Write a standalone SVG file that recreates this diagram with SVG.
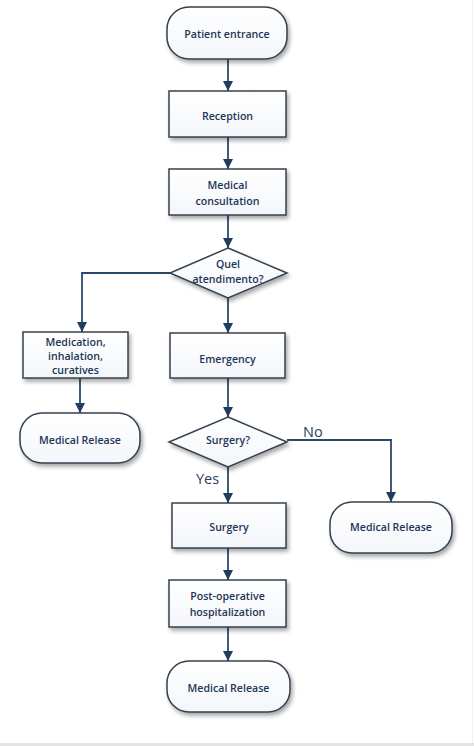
<svg xmlns="http://www.w3.org/2000/svg" width="474" height="746" viewBox="0 0 474 746">
<defs>
<filter id="sh" x="-20%" y="-20%" width="150%" height="160%">
<feGaussianBlur in="SourceAlpha" stdDeviation="2.2"/>
<feOffset dx="2" dy="3" result="b"/>
<feComponentTransfer><feFuncA type="linear" slope="0.35"/></feComponentTransfer>
<feMerge><feMergeNode/><feMergeNode in="SourceGraphic"/></feMerge>
</filter>
<linearGradient id="g" x1="0" y1="0" x2="0" y2="1">
<stop offset="0" stop-color="#ffffff"/><stop offset="1" stop-color="#f3f6fa"/>
</linearGradient>
<marker id="ah" viewBox="0 0 10 10" refX="10" refY="5" markerWidth="10" markerHeight="10" markerUnits="userSpaceOnUse" orient="auto">
<path d="M0,0 L10,5 L0,10 z" fill="#1f3d5e"/>
</marker>
<style>
.s{fill:url(#g);stroke:#34404e;stroke-width:1.5;filter:url(#sh)}
.t{font-family:"Open Sans","Liberation Sans",sans-serif;font-size:10.6px;font-weight:600;fill:#1d3556;text-anchor:middle;dominant-baseline:central}
.c{fill:none;stroke:#2a4a6c;stroke-width:1.8;marker-end:url(#ah)}
.l{font-family:"Open Sans","Liberation Sans",sans-serif;font-size:14.5px;fill:#2a3f5a}
</style>
</defs>
<rect x="0" y="0" width="474" height="746" fill="#ffffff"/>
<rect x="0" y="743" width="474" height="3" fill="#e4e4e4"/>
<line x1="472.5" y1="0" x2="472.5" y2="743" stroke="#f0f0f0" stroke-width="1"/>
<g id="connectors">
<path class="c" d="M228,59 V91"/>
<path class="c" d="M228,137 V169"/>
<path class="c" d="M228,215 V248"/>
<path class="c" d="M228,298 V333"/>
<path class="c" d="M170,273 H82 V332"/>
<path class="c" d="M80,378 V413"/>
<path class="c" d="M228,378 V417"/>
<path class="c" d="M228,467 V503"/>
<path class="c" d="M287,440 H391 V502"/>
<path class="c" d="M228,548 V580"/>
<path class="c" d="M228,627 V661"/>
<text class="l" x="303" y="437">No</text>
<text class="l" x="196" y="484">Yes</text>
</g>
<g id="patient-entrance"><rect class="s" x="167" y="7" width="120" height="52" rx="22"/><text class="t" x="227" y="34">Patient entrance</text></g>
<g id="reception"><rect class="s" x="169" y="91" width="117" height="46"/><text class="t" x="227.5" y="116">Reception</text></g>
<g id="medical-consultation"><rect class="s" x="169" y="169" width="117" height="46"/><text class="t" x="227.5" y="185">Medical</text><text class="t" x="227.5" y="201">consultation</text></g>
<g id="quel-atendimento"><polygon class="s" points="228,248 287,273 228,298 170,273"/><text class="t" x="228" y="264">Quel</text><text class="t" x="228" y="279">atendimento?</text></g>
<g id="medication"><rect class="s" x="23" y="332" width="105" height="46"/><text class="t" x="75.5" y="342">Medication,</text><text class="t" x="75.5" y="356">inhalation,</text><text class="t" x="75.5" y="370">curatives</text></g>
<g id="emergency"><rect class="s" x="170" y="333" width="115" height="45"/><text class="t" x="227.5" y="359">Emergency</text></g>
<g id="medical-release-left"><rect class="s" x="20" y="413" width="120" height="50" rx="22"/><text class="t" x="80" y="440">Medical Release</text></g>
<g id="surgery-decision"><polygon class="s" points="228,417 287,442 228,467 169,442"/><text class="t" x="228" y="440">Surgery?</text></g>
<g id="surgery"><rect class="s" x="172" y="503" width="114" height="45"/><text class="t" x="229" y="527">Surgery</text></g>
<g id="medical-release-right"><rect class="s" x="330" y="502" width="122" height="51" rx="22"/><text class="t" x="391" y="527">Medical Release</text></g>
<g id="post-operative"><rect class="s" x="169" y="580" width="117" height="47"/><text class="t" x="227.5" y="596">Post-operative</text><text class="t" x="227.5" y="612">hospitalization</text></g>
<g id="medical-release-bottom"><rect class="s" x="167" y="661" width="123" height="51" rx="22"/><text class="t" x="228.5" y="688">Medical Release</text></g>
</svg>
